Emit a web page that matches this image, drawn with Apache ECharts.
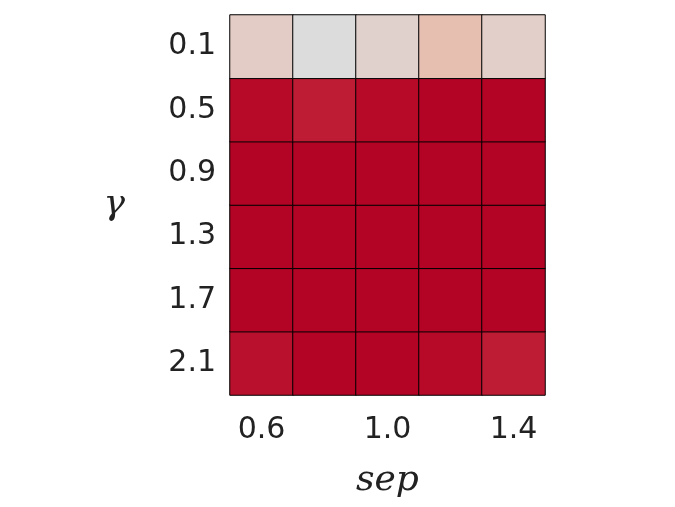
<!DOCTYPE html>
<html>
<head>
<meta charset="utf-8">
<style>html,body{margin:0;padding:0;background:#fff}</style>
<script src="https://cdn.jsdelivr.net/npm/echarts@6/dist/echarts.min.js"></script>
</head>
<body>
<div id="chart" style="width:675px;height:507px"></div>
<script>
var sepLabels = ['0.6', '0.8', '1.0', '1.2', '1.4'];
var gammaLabels = ['2.1', '1.7', '1.3', '0.9', '0.5', '0.1'];
// rows from top (gamma 0.1) to bottom (gamma 2.1)
var row01 = [0.56, 0.50, 0.54, 0.61, 0.55];
var row05 = [0.99, 0.96, 0.99, 1.0, 1.0];
var row09 = [1.0, 1.0, 1.0, 1.0, 1.0];
var row13 = [1.0, 1.0, 1.0, 1.0, 1.0];
var row17 = [1.0, 1.0, 1.0, 1.0, 1.0];
var row21 = [0.98, 1.0, 1.0, 0.99, 0.96];
var rows = [row21, row17, row13, row09, row05, row01];

var data = [];
rows.forEach(function (r, yi) {
    r.forEach(function (v, xi) { data.push([xi, yi, v]); });
});

var chart = echarts.init(document.getElementById('chart'));
chart.setOption({
    animation: false,
    grid: {left: 230, top: 15, width: 315, height: 380},
    xAxis: {
        type: 'category',
        data: sepLabels,
        name: 'sep',
        nameLocation: 'middle',
        nameGap: 68,
        nameTextStyle: {fontFamily: 'DejaVu Serif', fontStyle: 'italic', fontSize: 36, color: '#222'},
        axisLine: {show: false},
        axisTick: {show: false},
        axisLabel: {
            fontFamily: 'DejaVu Sans', fontSize: 30, color: '#222', margin: 20,
            interval: 0,
            formatter: function (v, i) { return i % 2 === 0 ? v : ''; }
        }
    },
    yAxis: {
        type: 'category',
        data: gammaLabels,
        name: 'γ',
        nameLocation: 'middle',
        nameRotate: 0,
        nameGap: 105,
        nameTextStyle: {fontFamily: 'DejaVu Serif', fontStyle: 'italic', fontSize: 36, color: '#222'},
        axisLine: {show: false},
        axisTick: {show: false},
        axisLabel: {fontFamily: 'DejaVu Sans', fontSize: 30, color: '#222', margin: 14}
    },
    visualMap: {
        show: false,
        min: 0,
        max: 1,
        dimension: 2,
        inRange: {color: ['#3b4cc0', '#7b9ff9', '#dddcdc', '#f49a7b', '#b40426']}
    },
    series: [{
        type: 'heatmap',
        data: data,
        itemStyle: {borderColor: '#000', borderWidth: 1}
    }]
});
</script>
</body>
</html>
